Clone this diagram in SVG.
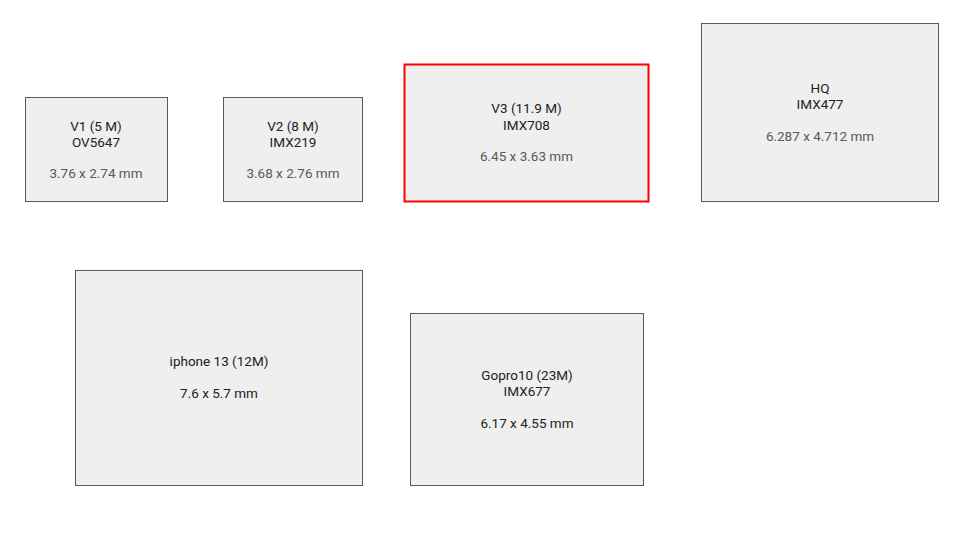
<svg xmlns="http://www.w3.org/2000/svg" width="960" height="540" viewBox="0 0 960 540">
<style>
.box{fill:#efefef;stroke:#595959;stroke-width:1}
.sel{fill:#efefef;stroke:#ff0000;stroke-width:2}
text{font-family:Roboto,"Liberation Sans",sans-serif;font-size:13.5px;font-weight:400;text-anchor:middle}
.t{fill:#222222}
.d{fill:#595959}
</style>
<rect width="960" height="540" fill="#ffffff"/>
<g id="v1"><rect class="box" x="25.5" y="97.5" width="142" height="104"/>
<text class="t" x="96" y="131">V1 (5 M)</text><text class="t" x="96" y="147">OV5647</text><text class="d" x="96" y="178">3.76 x 2.74 mm</text></g>
<g id="v2"><rect class="box" x="223.5" y="97.5" width="139" height="104"/>
<text class="t" x="293" y="131">V2 (8 M)</text><text class="t" x="293" y="147">IMX219</text><text class="d" x="293" y="178">3.68 x 2.76 mm</text></g>
<g id="v3"><rect class="sel" x="404.5" y="64.5" width="244" height="137"/>
<text class="t" x="526.5" y="113">V3 (11.9 M)</text><text class="t" x="526.5" y="130">IMX708</text><text class="d" x="526.5" y="161">6.45 x 3.63 mm</text></g>
<g id="hq"><rect class="box" x="701.5" y="23.5" width="237" height="178"/>
<text class="t" x="820" y="93">HQ</text><text class="t" x="820" y="109">IMX477</text><text class="d" x="820" y="141">6.287 x 4.712 mm</text></g>
<g id="iphone"><rect class="box" x="75.5" y="270.5" width="287" height="215"/>
<text class="t" x="219" y="366">iphone 13 (12M)</text><text class="t" x="219" y="398">7.6 x 5.7 mm</text></g>
<g id="gopro"><rect class="box" x="410.5" y="313.5" width="233" height="172"/>
<text class="t" x="527" y="380">Gopro10 (23M)</text><text class="t" x="527" y="396">IMX677</text><text class="t" x="527" y="428">6.17 x 4.55 mm</text></g>
<g id="connectors"></g>
</svg>
